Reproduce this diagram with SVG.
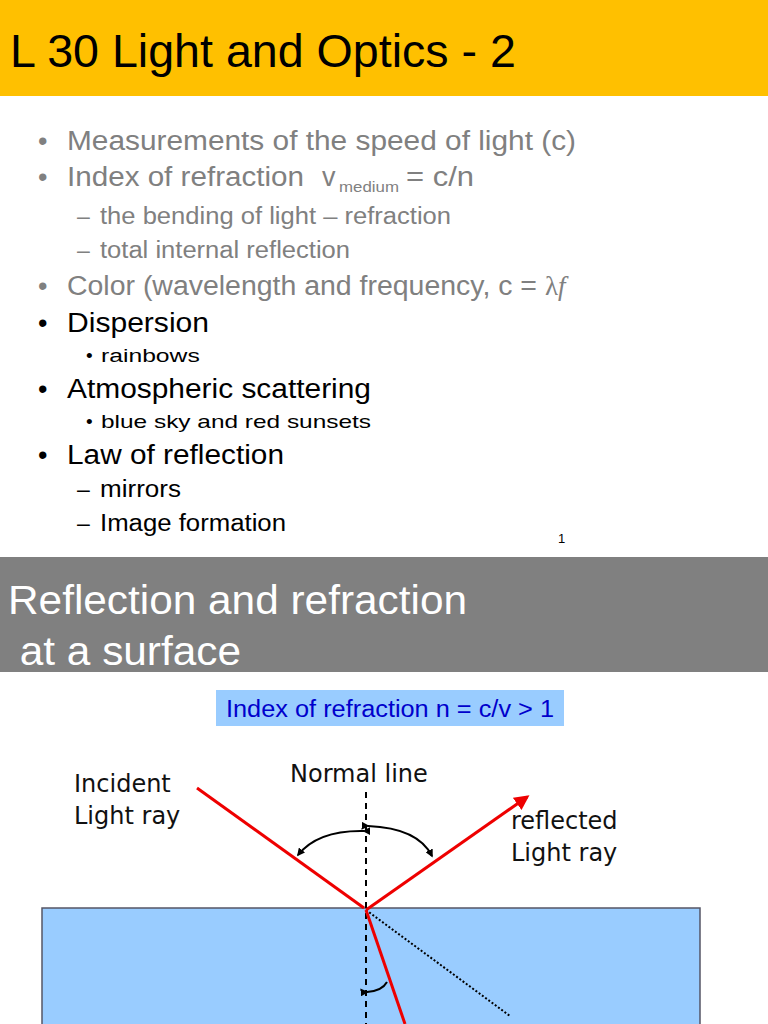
<svg xmlns="http://www.w3.org/2000/svg" width="768" height="1024" viewBox="0 0 768 1024">
<style>
.s{font-family:"Liberation Sans",Arial,sans-serif}
.g{fill:#808080}
.k{fill:#000}
.d{font-family:"DejaVu Sans",sans-serif;font-size:24px;fill:#111}
.ray{stroke:#EE0000;stroke-width:3;fill:none}
.arc{stroke:#000;stroke-width:2;fill:none}
</style>
<defs>
<marker id="ra" viewBox="0 0 10 10" refX="8" refY="5" markerWidth="5" markerHeight="5" orient="auto"><path d="M0,0 L10,5 L0,10 z" fill="#EE0000"/></marker>
<marker id="ka" viewBox="0 0 10 10" refX="8" refY="5" markerWidth="4" markerHeight="4" orient="auto"><path d="M0,0 L10,5 L0,10 z" fill="#000"/></marker>
</defs>
<rect width="768" height="1024" fill="#fff"/>
<rect x="0" y="0" width="768" height="96" fill="#FFC000"/>
<text class="s" x="10" y="67" font-size="46" fill="#000" textLength="506" lengthAdjust="spacingAndGlyphs">L 30 Light and Optics - 2</text>
<g class="s" font-size="27">
<text x="38" y="150" class="g">•</text><text x="67" y="150" class="g" textLength="509" lengthAdjust="spacingAndGlyphs">Measurements of the speed of light (c)</text>
<text x="38" y="186" class="g">•</text><text x="67" y="186" class="g" textLength="237" lengthAdjust="spacingAndGlyphs">Index of refraction</text><text x="322" y="186" class="g">v</text><text x="339" y="192" class="g" font-size="15" textLength="60" lengthAdjust="spacingAndGlyphs">medium</text><text x="406" y="186" class="g" textLength="68" lengthAdjust="spacingAndGlyphs">= c/n</text>
<text x="77" y="224" class="g" font-size="23">–</text><text x="100" y="224" class="g" font-size="23" textLength="351" lengthAdjust="spacingAndGlyphs">the bending of light – refraction</text>
<text x="77" y="258" class="g" font-size="23">–</text><text x="100" y="258" class="g" font-size="23" textLength="250" lengthAdjust="spacingAndGlyphs">total internal reflection</text>
<text x="38" y="295" class="g">•</text><text x="67" y="295" class="g" textLength="470" lengthAdjust="spacingAndGlyphs">Color (wavelength and frequency, c =</text><text x="545" y="295" class="g" font-family="Liberation Serif,serif">λ<tspan font-style="italic">f</tspan></text>
<text x="38" y="332" class="k">•</text><text x="67" y="332" class="k" textLength="142" lengthAdjust="spacingAndGlyphs">Dispersion</text>
<text x="86" y="362" class="k" font-size="19">•</text><text x="101" y="362" class="k" font-size="19" transform="translate(101 0) scale(1.3 1) translate(-101 0)">rainbows</text>
<text x="38" y="398" class="k">•</text><text x="67" y="398" class="k" textLength="304" lengthAdjust="spacingAndGlyphs">Atmospheric scattering</text>
<text x="86" y="428" class="k" font-size="19">•</text><text x="101" y="428" class="k" font-size="19" textLength="270" lengthAdjust="spacingAndGlyphs">blue sky and red sunsets</text>
<text x="38" y="464" class="k">•</text><text x="67" y="464" class="k" textLength="217" lengthAdjust="spacingAndGlyphs">Law of reflection</text>
<text x="77" y="497" class="k" font-size="23">–</text><text x="100" y="497" class="k" font-size="23" textLength="81" lengthAdjust="spacingAndGlyphs">mirrors</text>
<text x="77" y="531" class="k" font-size="23">–</text><text x="100" y="531" class="k" font-size="23" textLength="186" lengthAdjust="spacingAndGlyphs">Image formation</text>
<text x="558" y="543" class="k" font-size="13">1</text>
</g>
<rect x="0" y="557" width="768" height="115" fill="#808080"/>
<text class="s" x="8" y="614" font-size="40" fill="#fff" textLength="459" lengthAdjust="spacingAndGlyphs">Reflection and refraction</text>
<text class="s" x="8" y="665" font-size="40" fill="#fff" xml:space="preserve" textLength="233" lengthAdjust="spacingAndGlyphs"> at a surface</text>
<g id="label"><rect x="216" y="690" width="348" height="36" fill="#99CCFF"/>
<text class="s" x="226" y="717" font-size="23" fill="#0000CC" textLength="328" lengthAdjust="spacingAndGlyphs">Index of refraction n = c/v &gt; 1</text></g>
<g id="water"><rect x="42" y="908" width="658" height="130" fill="#99CCFF" stroke="#556" stroke-width="1.5"/></g>
<g id="labels">
<text class="d" x="74" y="792">Incident</text><text class="d" x="74" y="824">Light ray</text>
<text class="d" x="290" y="782">Normal line</text>
<text class="d" x="511" y="829">reflected</text><text class="d" x="511" y="861">Light ray</text>
</g>
<g id="connectors">
<line x1="366" y1="792" x2="366" y2="1024" stroke="#000" stroke-width="2" stroke-dasharray="6,5"/>
<line x1="366" y1="910" x2="510" y2="1016" stroke="#000" stroke-width="2" stroke-dasharray="2,2"/>
<line class="ray" x1="197" y1="788" x2="364" y2="908"/>
<line class="ray" x1="366" y1="910" x2="527" y2="797" marker-end="url(#ra)"/>
<line class="ray" x1="366" y1="910" x2="405" y2="1024"/>
<path class="arc" d="M364,831 Q318,830 298,855" marker-start="url(#ka)" marker-end="url(#ka)"/>
<path class="arc" d="M368,826 Q418,828 432,856" marker-start="url(#ka)" marker-end="url(#ka)"/>
<path class="arc" d="M367,992 Q382,991 387,982" marker-start="url(#ka)"/>
</g>
</svg>
